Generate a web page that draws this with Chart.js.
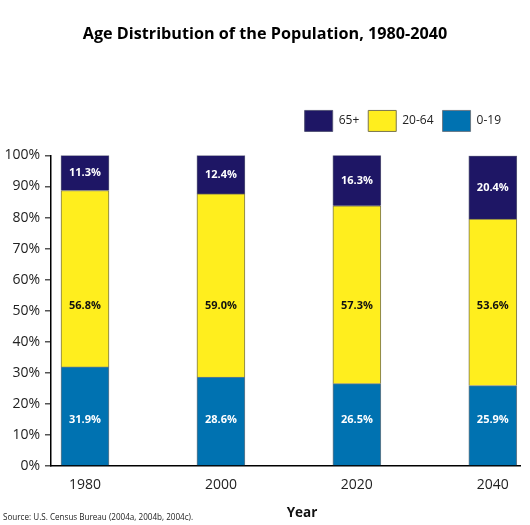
<!DOCTYPE html>
<html>
<head>
<meta charset="utf-8">
<script src="https://cdn.jsdelivr.net/npm/chart.js@4.4.1/dist/chart.umd.min.js"></script>
<style>
html,body{margin:0;padding:0;background:#fff;}
#wrap{width:530px;height:525px;position:relative;}
</style>
</head>
<body>
<div id="wrap"><canvas id="c" width="530" height="525"></canvas></div>
<script>
const years = [1980, 2000, 2020, 2040];
const age0to19 = [31.9, 28.6, 26.5, 25.9];
const age20to64 = [56.8, 59.0, 57.3, 53.6];
const age65plus = [11.3, 12.4, 16.3, 20.4];
const yTicks = [0, 10, 20, 30, 40, 50, 60, 70, 80, 90, 100];
const titleText = 'Age Distribution of the Population, 1980-2040';
const sourceText = 'Source: U.S. Census Bureau (2004a, 2004b, 2004c).';
const xTitle = 'Year';

const FONT = '"Open Sans", "Noto Sans", sans-serif';

function pts(vals){ return years.map((y,i)=>({x:y, y:vals[i]})); }

const labelPlugin = {
  id: 'barLabels',
  beforeLayout(chart){
    const lg = chart.legend;
    if (lg && !lg._patched) {
      const orig = lg.fit;
      lg.fit = function(){ orig.call(this); this.height += 14; };
      lg._patched = true;
    }
  },
  afterLayout(chart){
    const lg = chart.legend;
    if (lg) { lg.right -= 10; }
    const tb = chart.titleBlock;
    if (tb) { tb.left += 10; }
  },
  afterDatasetsDraw(chart){
    const ctx = chart.ctx;
    const ys = chart.scales.y;
    chart.data.datasets.forEach((ds, di) => {
      const meta = chart.getDatasetMeta(di);
      meta.data.forEach((bar, i) => {
        let y = (bar.y + bar.base) / 2;
        if (ds.labelAt != null) y = ys.getPixelForValue(ds.labelAt);
        ctx.save();
        ctx.font = 'bold 11px ' + FONT;
        ctx.fillStyle = ds.labelColor;
        ctx.textAlign = 'center';
        ctx.textBaseline = 'middle';
        ctx.fillText(ds.data[i].y.toFixed(1) + '%', bar.x, y);
        ctx.restore();
      });
    });
  },
  afterDraw(chart){
    const ctx = chart.ctx;
    ctx.save();
    ctx.font = '8.1px ' + FONT;
    ctx.fillStyle = '#222';
    ctx.textAlign = 'left';
    ctx.textBaseline = 'alphabetic';
    ctx.fillText(sourceText, 3, 520);
    ctx.font = 'bold 13.5px ' + FONT;
    ctx.textAlign = 'center';
    ctx.fillStyle = '#111';
    ctx.fillText(xTitle, 302, 517);
    ctx.restore();
  }
};

new Chart(document.getElementById('c'), {
  type: 'bar',
  data: {
    datasets: [
      { label: '0-19', data: pts(age0to19), backgroundColor: '#0072b1', borderColor: '#6b7b88', borderWidth: 1, labelColor: '#ffffff', labelAt: 15 },
      { label: '20-64', data: pts(age20to64), backgroundColor: '#ffee1e', borderColor: '#7a7550', borderWidth: 1, labelColor: '#111111', labelAt: 51.5 },
      { label: '65+', data: pts(age65plus), backgroundColor: '#1e1665', borderColor: '#555577', borderWidth: 1, labelColor: '#ffffff' }
    ]
  },
  options: {
    responsive: false,
    animation: false,
    devicePixelRatio: 1,
    layout: { padding: { left: 0, right: 10, top: 0, bottom: 0 } },
    datasets: { bar: { barThickness: 48 } },
    plugins: {
      title: {
        display: true, text: titleText, color: '#000',
        font: { family: FONT, size: 16.2, weight: 'bold' },
        padding: { top: 25, bottom: 57 }
      },
      legend: {
        display: true, position: 'top', align: 'end', reverse: true,
        labels: {
          boxWidth: 28, boxHeight: 21, padding: 9, color: '#222',
          font: { family: FONT, size: 12 }
        }
      },
      tooltip: { enabled: false }
    },
    scales: {
      x: {
        type: 'linear', stacked: true, min: 1975, max: 2044, offset: false,
        afterBuildTicks(s){ s.ticks = years.map(v => ({ value: v })); },
        afterFit(s){ s.height = 59; },
        grid: { display: false, drawTicks: false, offset: false },
        border: { display: true, color: '#000', width: 1.5 },
        ticks: {
          color: '#222', padding: 11, font: { family: FONT, size: 14 },
          callback: v => String(v)
        }
      },
      y: {
        stacked: true, min: 0, max: 100,
        afterBuildTicks(s){ s.ticks = yTicks.map(v => ({ value: v })); },
        afterFit(s){ s.width = 51; },
        grid: { drawOnChartArea: false, drawTicks: true, tickLength: 6, color: '#555', lineWidth: 1.5 },
        border: { display: true, color: '#000', width: 1.5 },
        ticks: {
          color: '#222', padding: 5, font: { family: FONT, size: 14 },
          callback: v => v + '%'
        }
      }
    }
  },
  plugins: [labelPlugin]
});
</script>
</body>
</html>
